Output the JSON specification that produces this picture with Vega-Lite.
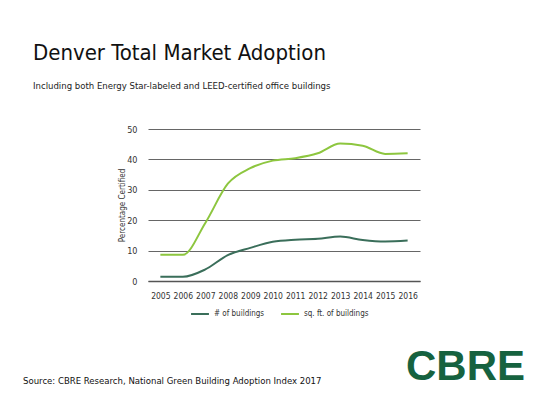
{
  "$schema": "https://vega.github.io/schema/vega-lite/v6.json",
  "autosize": {"type": "pad"},
  "padding": {"left": 23, "top": 41, "right": 20, "bottom": 20},
  "background": "white",
  "bounds": "flush",
  "spacing": 80,
  "resolve": {"legend": {"color": "independent"}},
  "config": {
    "font": "DejaVu Sans Condensed",
    "view": {"stroke": null},
    "axis": {"ticks": false, "labelFontSize": 8.5, "labelColor": "#333333"}
  },
  "vconcat": [
    {
      "width": 272,
      "height": 152,
      "title": {
        "text": "Denver Total Market Adoption",
        "subtitle": "Including both Energy Star-labeled and LEED-certified office buildings",
        "anchor": "start",
        "frame": "group",
        "dx": -115,
        "offset": 34,
        "fontSize": 22,
        "fontWeight": "normal",
        "color": "#111111",
        "subtitleFontSize": 9.5,
        "subtitleColor": "#222222",
        "subtitlePadding": 16
      },
      "data": {
        "values": [
          {"year": 2005, "series": "# of buildings", "pct": 1.4},
          {"year": 2006, "series": "# of buildings", "pct": 1.4},
          {"year": 2007, "series": "# of buildings", "pct": 3.8},
          {"year": 2008, "series": "# of buildings", "pct": 8.5},
          {"year": 2009, "series": "# of buildings", "pct": 10.9},
          {"year": 2010, "series": "# of buildings", "pct": 12.9},
          {"year": 2011, "series": "# of buildings", "pct": 13.6},
          {"year": 2012, "series": "# of buildings", "pct": 13.9},
          {"year": 2013, "series": "# of buildings", "pct": 14.6},
          {"year": 2014, "series": "# of buildings", "pct": 13.5},
          {"year": 2015, "series": "# of buildings", "pct": 13.0},
          {"year": 2016, "series": "# of buildings", "pct": 13.3},
          {"year": 2005, "series": "sq. ft. of buildings", "pct": 8.6},
          {"year": 2006, "series": "sq. ft. of buildings", "pct": 8.6},
          {"year": 2007, "series": "sq. ft. of buildings", "pct": 19.1},
          {"year": 2008, "series": "sq. ft. of buildings", "pct": 32.0},
          {"year": 2009, "series": "sq. ft. of buildings", "pct": 37.1},
          {"year": 2010, "series": "sq. ft. of buildings", "pct": 39.6},
          {"year": 2011, "series": "sq. ft. of buildings", "pct": 40.4},
          {"year": 2012, "series": "sq. ft. of buildings", "pct": 42.0},
          {"year": 2013, "series": "sq. ft. of buildings", "pct": 45.2},
          {"year": 2014, "series": "sq. ft. of buildings", "pct": 44.5},
          {"year": 2015, "series": "sq. ft. of buildings", "pct": 41.8},
          {"year": 2016, "series": "sq. ft. of buildings", "pct": 42.0}
        ]
      },
      "mark": {"type": "line", "interpolate": "monotone", "strokeWidth": 2},
      "encoding": {
        "x": {
          "field": "year",
          "type": "quantitative",
          "scale": {"domain": [2004.45, 2016.55], "nice": false, "zero": false},
          "axis": {
            "title": null,
            "values": [2005, 2006, 2007, 2008, 2009, 2010, 2011, 2012, 2013, 2014, 2015, 2016],
            "format": "d",
            "labelOverlap": false,
            "grid": false,
            "domain": true,
            "domainColor": "#555555",
            "domainWidth": 1.5,
            "labelPadding": 10
          }
        },
        "y": {
          "field": "pct",
          "type": "quantitative",
          "scale": {"domain": [0, 50], "nice": false},
          "axis": {
            "title": "Percentage Certified",
            "titleFontSize": 8,
            "titleFontWeight": "normal",
            "titleColor": "#333333",
            "titlePadding": 0,
            "values": [0, 10, 20, 30, 40, 50],
            "domain": false,
            "gridColor": "#666666",
            "gridWidth": 1.2,
            "labelFontSize": 9,
            "labelPadding": 11
          }
        },
        "color": {
          "field": "series",
          "type": "nominal",
          "scale": {
            "domain": ["# of buildings", "sq. ft. of buildings"],
            "range": ["#3a6e5a", "#8dc63f"]
          },
          "legend": {
            "title": null,
            "orient": "none",
            "legendX": 42,
            "legendY": 175,
            "direction": "horizontal",
            "symbolType": "stroke",
            "symbolStrokeWidth": 2,
            "symbolSize": 320,
            "labelFontSize": 8,
            "labelColor": "#333333",
            "columnPadding": 12
          }
        }
      }
    },
    {
      "bounds": "flush",
      "spacing": 20,
      "hconcat": [
        {
          "width": 200,
          "height": 1,
          "data": {"values": []},
          "mark": "text",
          "encoding": {},
          "title": {
            "text": "Source: CBRE Research, National Green Building Adoption Index 2017",
            "orient": "bottom",
            "anchor": "start",
            "frame": "group",
            "dx": -125,
            "offset": 14,
            "fontSize": 9.5,
            "fontWeight": "normal",
            "color": "#111111"
          }
        },
        {
          "width": 157,
          "height": 1,
          "data": {"values": []},
          "mark": "text",
          "encoding": {},
          "title": {
            "text": "CBRE",
            "orient": "top",
            "anchor": "end",
            "frame": "group",
            "offset": -28,
            "font": "Liberation Sans",
            "fontSize": 42,
            "fontWeight": "bold",
            "color": "#16623f"
          }
        }
      ]
    }
  ]
}
